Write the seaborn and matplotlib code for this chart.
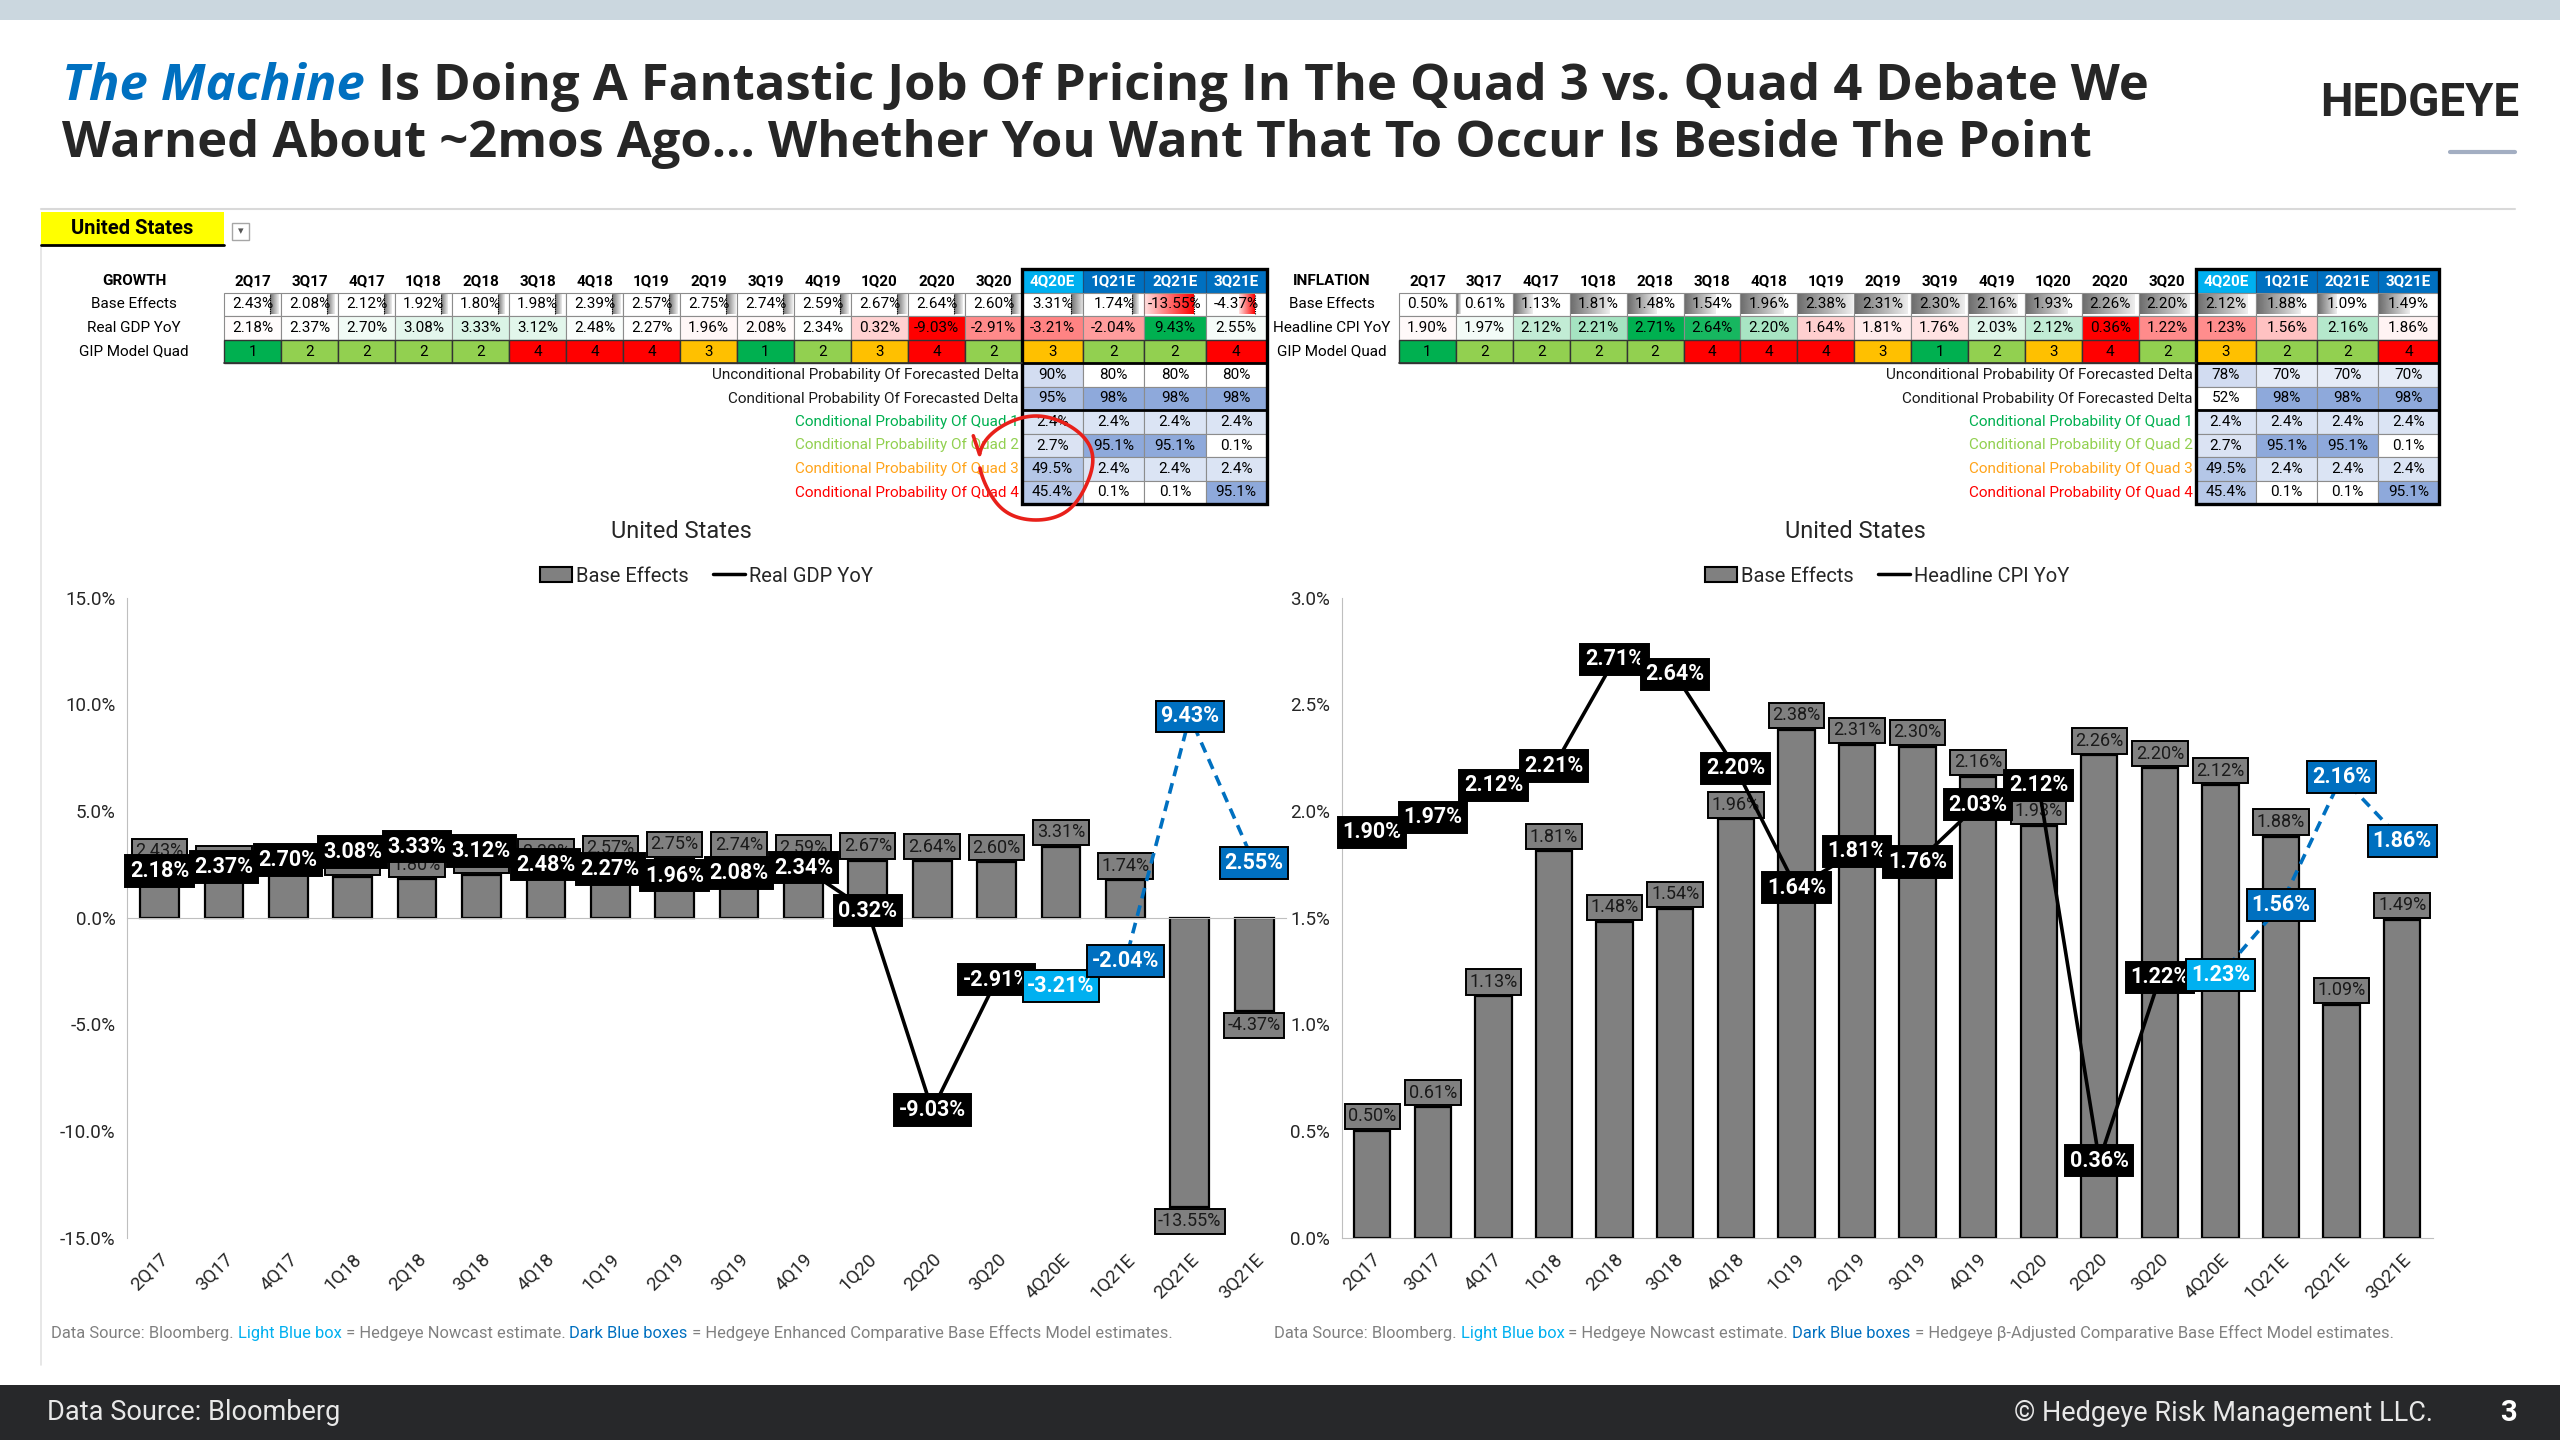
import numpy as np
import matplotlib
matplotlib.use("Agg")
import matplotlib.pyplot as plt
import matplotlib.transforms as mtransforms
from matplotlib.patches import Rectangle, Patch
from matplotlib.lines import Line2D
from matplotlib.colors import to_rgb, to_hex
import seaborn as sns

# ---- data ----
quarters = ['2Q17', '3Q17', '4Q17', '1Q18', '2Q18', '3Q18', '4Q18', '1Q19', '2Q19',
            '3Q19', '4Q19', '1Q20', '2Q20', '3Q20', '4Q20E', '1Q21E', '2Q21E', '3Q21E']

gdp_base = [2.43, 2.08, 2.12, 1.92, 1.80, 1.98, 2.39, 2.57, 2.75, 2.74, 2.59, 2.67,
            2.64, 2.60, 3.31, 1.74, -13.55, -4.37]
gdp_yoy = [2.18, 2.37, 2.70, 3.08, 3.33, 3.12, 2.48, 2.27, 1.96, 2.08, 2.34, 0.32,
           -9.03, -2.91, -3.21, -2.04, 9.43, 2.55]
gdp_quad = [1, 2, 2, 2, 2, 4, 4, 4, 3, 1, 2, 3, 4, 2, 3, 2, 2, 4]

cpi_base = [0.50, 0.61, 1.13, 1.81, 1.48, 1.54, 1.96, 2.38, 2.31, 2.30, 2.16, 1.93,
            2.26, 2.20, 2.12, 1.88, 1.09, 1.49]
cpi_yoy = [1.90, 1.97, 2.12, 2.21, 2.71, 2.64, 2.20, 1.64, 1.81, 1.76, 2.03, 2.12,
           0.36, 1.22, 1.23, 1.56, 2.16, 1.86]
cpi_quad = [1, 2, 2, 2, 2, 4, 4, 4, 3, 1, 2, 3, 4, 2, 3, 2, 2, 4]

prob_labels = ['Unconditional Probability Of Forecasted Delta',
               'Conditional Probability Of Forecasted Delta',
               'Conditional Probability Of Quad 1',
               'Conditional Probability Of Quad 2',
               'Conditional Probability Of Quad 3',
               'Conditional Probability Of Quad 4']
gdp_probs = [[90, 80, 80, 80],
             [95, 98, 98, 98],
             [2.4, 2.4, 2.4, 2.4],
             [2.7, 95.1, 95.1, 0.1],
             [49.5, 2.4, 2.4, 2.4],
             [45.4, 0.1, 0.1, 95.1]]
cpi_probs = [[78, 70, 70, 70],
             [52, 98, 98, 98],
             [2.4, 2.4, 2.4, 2.4],
             [2.7, 95.1, 95.1, 0.1],
             [49.5, 2.4, 2.4, 2.4],
             [45.4, 0.1, 0.1, 95.1]]

# ---- style ----
DARK = '#262626'
BAR = '#808080'
LBLUE = '#00B0F0'
DBLUE = '#0070C0'
QUAD_COL = {1: '#00B050', 2: '#92D050', 3: '#FFC000', 4: '#FF0000'}
PROB_COL = ['#1A1A1A', '#1A1A1A', '#00B050', '#92D050', '#FFA41B', '#FF0000']
N_HIST = 14

sns.set_style('white')
plt.rcParams['font.family'] = ['Roboto', 'DejaVu Sans']

fig = plt.figure(figsize=(25.6, 14.4), dpi=100)
bg = fig.add_axes([0, 0, 1, 1], zorder=0)
bg.set_xlim(0, 2560)
bg.set_ylim(1440, 0)
bg.set_autoscale_on(False)
bg.axis('off')
renderer = fig.canvas.get_renderer()


def blend(c1, c2, t):
    a, b = np.array(to_rgb(c1)), np.array(to_rgb(c2))
    t = float(np.clip(t, 0, 1))
    return to_hex(a + (b - a) * t)


def runs(x, y, parts, **kw):
    for s, color, extra in parts:
        t = bg.text(x, y, s, color=color, va='baseline', **kw, **extra)
        bb = t.get_window_extent(renderer=renderer)
        x = bg.transData.inverted().transform((bb.x1, bb.y0))[0]


def grad_bar(x0, x1, yc, h, color, fade_right=True):
    if x1 - x0 < 0.5:
        return
    n = 64
    img = np.zeros((1, n, 4))
    img[..., :3] = to_rgb(color)
    alpha = np.linspace(1.0, 0.12, n)
    img[..., 3] = alpha if fade_right else alpha[::-1]
    bg.imshow(img, extent=(x0, x1, yc + h / 2, yc - h / 2), aspect='auto',
              interpolation='bilinear', zorder=2)


# ---- page furniture ----
bg.add_patch(Rectangle((0, 0), 2560, 20, fc='#CBD7DF', ec='none'))
bg.add_patch(Rectangle((0, 1385), 2560, 55, fc='#27282A', ec='none'))
bg.text(47, 1413, 'Data Source: Bloomberg', color='#E8E8E8', fontsize=19.5, va='center')
bg.text(2433, 1413, '© Hedgeye Risk Management LLC.', color='#E8E8E8', fontsize=19.5,
        va='center', ha='right')
bg.text(2508, 1413, '3', color='white', fontsize=21, weight='bold', va='center', ha='center')

tkw = dict(fontsize=36.5, weight='bold', family=['Open Sans', 'DejaVu Sans'])
runs(62, 100, [('The Machine', DBLUE, dict(style='italic')),
               (' Is Doing A Fantastic Job Of Pricing In The Quad 3 vs. Quad 4 Debate We', DARK, {})], **tkw)
runs(62, 157, [('Warned About ~2mos Ago... Whether You Want That To Occur Is Beside The Point', DARK, {})], **tkw)

bg.text(2420, 103, 'HEDGEYE', ha='center', va='center', fontsize=33, weight='bold', color=DARK)
bg.plot([2450, 2515], [152, 152], color='#A3AEC2', lw=3)

bg.plot([41, 2515], [209, 209], color='#D9D9D9', lw=1.5)
bg.plot([41, 41], [245, 1365], color='#E3E3E3', lw=1.2)
bg.add_patch(Rectangle((41, 212), 183, 33, fc='#FFFF00', ec='none'))
bg.plot([41, 224], [245, 245], color='black', lw=2)
bg.text(132, 229, 'United States', ha='center', va='center', fontsize=14.5, weight='bold', color='black')
bg.add_patch(Rectangle((232, 223), 17, 17, fc='white', ec='#A6A6A6', lw=1))
bg.text(240.5, 231.5, '▾', ha='center', va='center', fontsize=8, color='#555555')

# ---- tables ----
ROW_Y = [281, 304.5, 328, 351.5, 375, 398.5, 422, 445.5, 469, 492.5]
RH = 23.5
FS = 11


def draw_table(x_lab, x0, cw, cwf, title, names, base, yoy, quad, probs, bar_mode):
    n = len(quarters)
    bg.text(x_lab, ROW_Y[0], title, ha='center', va='center', fontsize=FS, weight='bold', color='black')
    for r, name in enumerate(names):
        bg.text(x_lab, ROW_Y[r + 1], name, ha='center', va='center', fontsize=FS, color='black')
    lo, hi = min(base), max(base)
    vals = sorted(yoy)
    mid = (vals[n // 2 - 1] + vals[n // 2]) / 2
    ylo, yhi = min(yoy), max(yoy)
    for i, q in enumerate(quarters):
        x = x0 + cw * min(i, N_HIST) + cwf * max(0, i - N_HIST)
        w = cw if i < N_HIST else cwf
        xc = x + w / 2
        # header
        if i >= N_HIST:
            bg.add_patch(Rectangle((x, ROW_Y[0] - RH / 2), w, RH,
                                   fc=LBLUE if i == N_HIST else DBLUE, ec='#1F4E79', lw=0.8, zorder=1))
            bg.text(xc, ROW_Y[0], q, ha='center', va='center', fontsize=FS, weight='bold', color='white', zorder=4)
        else:
            bg.text(xc, ROW_Y[0], q, ha='center', va='center', fontsize=FS, weight='bold', color='black')
        # base effects with data bars
        bg.add_patch(Rectangle((x, ROW_Y[1] - RH / 2), w, RH, fc='white', ec='#8C8C8C', lw=0.8, zorder=1))
        v = base[i]
        if bar_mode == 'axis':
            f0 = -lo / (hi - lo)
            ax_x = x + f0 * w
            if v >= 0:
                grad_bar(ax_x, ax_x + v / (hi - lo) * w, ROW_Y[1], RH - 4, '#6E6E6E')
            else:
                grad_bar(ax_x + v / (hi - lo) * w, ax_x, ROW_Y[1], RH - 4, '#FF0000', fade_right=False)
            bg.plot([ax_x, ax_x], [ROW_Y[1] - RH / 2 + 2, ROW_Y[1] + RH / 2 - 2], color='black',
                    lw=0.8, ls=(0, (1, 1)), zorder=3)
        else:
            grad_bar(x + 1, x + 1 + (v - lo) / (hi - lo) * (w - 2), ROW_Y[1], RH - 4, '#6E6E6E')
        bg.text(xc, ROW_Y[1], f'{v:.2f}%', ha='center', va='center', fontsize=FS, color='black', zorder=4)
        # yoy with 3-colour scale
        v = yoy[i]
        if v >= mid:
            fc = blend('white', '#00B050', (v - mid) / (yhi - mid))
        else:
            fc = blend('white', '#FF0000', (mid - v) / (mid - ylo))
        bg.add_patch(Rectangle((x, ROW_Y[2] - RH / 2), w, RH, fc=fc, ec='#8C8C8C', lw=0.8, zorder=1))
        bg.text(xc, ROW_Y[2], f'{v:.2f}%', ha='center', va='center', fontsize=FS, color='black', zorder=4)
        # quad
        bg.add_patch(Rectangle((x, ROW_Y[3] - RH / 2), w, RH, fc=QUAD_COL[quad[i]], ec='#333333', lw=1, zorder=1))
        bg.text(xc, ROW_Y[3], str(quad[i]), ha='center', va='center', fontsize=FS, color='black', zorder=4)

    # probability block
    xp = x0 + N_HIST * cw
    delta_vals = probs[0] + probs[1]
    dlo, dhi = min(delta_vals), max(delta_vals)
    qmax = max(max(r) for r in probs[2:])
    for r, (lab, row) in enumerate(zip(prob_labels, probs)):
        y = ROW_Y[4 + r]
        bg.text(xp - 3, y, lab, ha='right', va='center', fontsize=FS, color=PROB_COL[r])
        for j, v in enumerate(row):
            if r < 2:
                fc = blend('white', '#8EA9DB', ((v - dlo) / (dhi - dlo)) ** 1.6)
                s = f'{v:.0f}%'
            else:
                fc = 'white' if v <= 0.1 else blend('white', '#8EA9DB', 0.3 + 0.7 * v / qmax)
                s = f'{v:.1f}%'
            bg.add_patch(Rectangle((xp + j * cwf, y - RH / 2), cwf, RH, fc=fc, ec='#8C8C8C', lw=0.8, zorder=1))
            bg.text(xp + j * cwf + cwf / 2, y, s, ha='center', va='center', fontsize=FS, color='black', zorder=4)
    top = ROW_Y[0] - RH / 2
    bot = ROW_Y[9] + RH / 2
    bg.add_patch(Rectangle((xp, top), 4 * cwf, bot - top, fill=False, ec='black', lw=2.4, zorder=5))
    for k in (3, 5):
        yb = ROW_Y[k] + RH / 2
        bg.plot([xp, xp + 4 * cwf], [yb, yb], color='black', lw=2, zorder=5)
    bg.plot([x0, xp], [ROW_Y[3] + RH / 2, ROW_Y[3] + RH / 2], color='#333333', lw=1.2, zorder=5)


draw_table(134, 224, 57.0, 61.2, 'GROWTH', ['Base Effects', 'Real GDP YoY', 'GIP Model Quad'],
           gdp_base, gdp_yoy, gdp_quad, gdp_probs, 'axis')
draw_table(1332, 1399, 56.9, 60.8, 'INFLATION', ['Base Effects', 'Headline CPI YoY', 'GIP Model Quad'],
           cpi_base, cpi_yoy, cpi_quad, cpi_probs, 'min')

# hand-drawn red circle around the 4Q20E quad probabilities
cx, cy, rx, ry = 1036, 468, 56, 52
th = np.linspace(np.radians(165), np.radians(165 - 345), 120)
ex = cx + rx * np.cos(th) * (1 + 0.06 * np.sin(3 * th))
ey = cy - ry * np.sin(th)
bg.plot(np.r_[cx - 1.12 * rx, ex], np.r_[cy - 0.62 * ry, ey], color='#E8201A', lw=2.6, zorder=6,
        solid_capstyle='round')


# ---- charts ----
def draw_chart(rect, base, yoy, ylim, step, line_name):
    ax = fig.add_axes(rect, zorder=2)
    sns.barplot(x=quarters, y=base, color=BAR, edgecolor='black', linewidth=1.6, width=0.6,
                saturation=1, errorbar=None, ax=ax, zorder=2)
    idx = np.arange(len(quarters))
    ax.plot(idx[:N_HIST], yoy[:N_HIST], color='black', lw=2.6, zorder=4)
    ax.plot(idx[N_HIST - 1:], yoy[N_HIST - 1:], color=DBLUE, lw=2.6, ls=(0, (3, 2)), zorder=4)

    for i, v in enumerate(base):
        up = v >= 0
        ax.annotate(f'{v:.2f}%', (i, v), xytext=(0, 4 if up else -4), textcoords='offset points',
                    ha='center', va='bottom' if up else 'top', fontsize=13, color='#1A1A1A', zorder=3,
                    bbox=dict(boxstyle='square,pad=0.2', fc=BAR, ec='black', lw=1.4))
    for i, v in enumerate(yoy):
        fc = 'black' if i < N_HIST else (LBLUE if i == N_HIST else DBLUE)
        ax.annotate(f'{v:.2f}%', (i, v), ha='center', va='center', fontsize=15.5, weight='bold',
                    color='white', zorder=5,
                    bbox=dict(boxstyle='square,pad=0.22', fc=fc, ec='black', lw=1.4))

    ax.set_xlim(-0.5, len(quarters) - 0.5)
    ax.set_ylim(*ylim)
    ax.set_yticks(np.arange(ylim[0], ylim[1] + step / 2, step))
    ax.yaxis.set_major_formatter(plt.FuncFormatter(lambda v, p: f'{v:.1f}%'))
    ax.set_xticks(np.arange(-0.5, len(quarters), 1))
    ax.set_xticklabels([])
    ax.set_xlabel('')
    ax.set_ylabel('')
    for s in ('top', 'right'):
        ax.spines[s].set_visible(False)
    ax.spines['left'].set_color('#BFBFBF')
    ax.spines['bottom'].set_color('#BFBFBF')
    ax.spines['bottom'].set_position(('data', 0))
    ax.tick_params(axis='x', length=7, color='#BFBFBF', direction='out')
    ax.tick_params(axis='y', length=5, color='#BFBFBF', labelsize=13.5, labelcolor=DARK)
    ax.patch.set_alpha(0)

    tr = mtransforms.blended_transform_factory(ax.transData, ax.transAxes)
    for i, q in enumerate(quarters):
        ax.text(i + 0.2, -0.02, q, transform=tr, rotation=45, ha='right', va='top',
                fontsize=13.5, color=DARK)

    handles = [Patch(fc=BAR, ec='black', lw=1.5, label='Base Effects'),
               Line2D([], [], color='black', lw=2.5, label=line_name)]
    ax.legend(handles=handles, loc='lower center', bbox_to_anchor=(0.5, 1.0), ncol=2, frameon=False,
              fontsize=14.5, handlelength=1.6, columnspacing=1.2, handletextpad=0.2, borderaxespad=0.2)
    return ax


draw_chart([0.0497, 0.1406, 0.4528, 0.4444], gdp_base, gdp_yoy, (-15, 15), 5, 'Real GDP YoY')
draw_chart([0.5242, 0.1406, 0.4260, 0.4444], cpi_base, cpi_yoy, (0, 3), 0.5, 'Headline CPI YoY')

bg.text(681, 531, 'United States', ha='center', va='center', fontsize=17, color=DARK)
bg.text(1855, 531, 'United States', ha='center', va='center', fontsize=17, color=DARK)

GRAY = '#808080'
fkw = dict(fontsize=11.9)
runs(51, 1338, [('Data Source: Bloomberg. ', GRAY, {}), ('Light Blue box', LBLUE, {}),
                (' = Hedgeye Nowcast estimate. ', GRAY, {}), ('Dark Blue boxes', DBLUE, {}),
                (' = Hedgeye Enhanced Comparative Base Effects Model estimates.', GRAY, {})], **fkw)
runs(1274, 1338, [('Data Source: Bloomberg. ', GRAY, {}), ('Light Blue box', LBLUE, {}),
                  (' = Hedgeye Nowcast estimate. ', GRAY, {}), ('Dark Blue boxes', DBLUE, {}),
                  (' = Hedgeye β-Adjusted Comparative Base Effect Model estimates.', GRAY, {})], **fkw)

fig.savefig('out.png', dpi=100)
